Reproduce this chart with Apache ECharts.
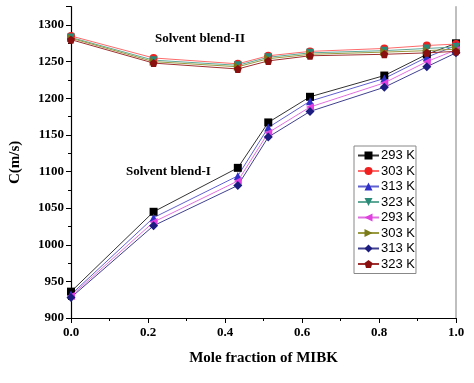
<!DOCTYPE html>
<html><head><meta charset="utf-8">
<script src="https://cdn.jsdelivr.net/npm/echarts@6/dist/echarts.min.js"></script>
<style>html,body{margin:0;padding:0;background:#fff}#c{width:474px;height:383px}</style>
</head><body><div id="c"></div>
<script>
var xValues = [0, 0.2145, 0.4333, 0.5124, 0.6208, 0.8138, 0.9242, 1.0];
var seriesNames = ['293 K','303 K','313 K','323 K','293 K','303 K','313 K','323 K'];
var s1 = [936, 1045, 1105, 1167, 1202, 1231, 1260, 1275]; // black
var s2 = [1285, 1255, 1247, 1258, 1264, 1268, 1272, 1274]; // red
var s3 = [932, 1037, 1094, 1160, 1196, 1227, 1256, 1272]; // blue
var s4 = [1283, 1252, 1245, 1256, 1262, 1265, 1268, 1270]; // teal
var s5 = [930, 1031, 1087, 1153, 1188, 1221, 1250, 1266]; // magenta
var s6 = [1282, 1250, 1243, 1254, 1260, 1263, 1265, 1267]; // olive
var s7 = [928, 1026, 1081, 1147, 1182, 1215, 1243, 1262]; // navy
var s8 = [1280, 1248, 1240, 1251, 1258, 1260, 1262, 1264]; // dark red
var yTicks = [900, 950, 1000, 1050, 1100, 1150, 1200, 1250, 1300];

var allData = [s1,s2,s3,s4,s5,s6,s7,s8];
var markerColors = ['#000000','#f02020','#3030c8','#2a8a78','#e040e0','#7a7a18','#1c1c80','#8a1010'];
var lineColors   = ['#333333','#ff6a6a','#6060d0','#5fa898','#e070e0','#9a9a40','#404090','#a03030'];
var pentagon = 'path://M0,-10 L9.51,-3.09 L5.88,8.09 L-5.88,8.09 L-9.51,-3.09 Z';
var symbols = ['rect','circle','triangle','triangle','triangle','triangle','diamond',pentagon];
var rotates = [0,0,0,180,90,-90,0,0];
var sizes = [8,8,8,8,8,8,9,8];

var series = allData.map(function(d,i){
  return {
    name: seriesNames[i] + '\u200b'.repeat(i),
    type: 'line',
    data: d.map(function(v,j){return [xValues[j], v];}),
    symbol: symbols[i],
    symbolRotate: rotates[i],
    symbolSize: sizes[i],
    showAllSymbol: true,
    lineStyle: {width: 1, color: lineColors[i]},
    itemStyle: {color: markerColors[i]},
    emphasis: {disabled: true},
    animation: false,
    z: 2
  };
});

var chart = echarts.init(document.getElementById('c'));
chart.setOption({
  animation: false,
  grid: {left: 69, right: 18, top: 6.7, bottom: 65, containLabel: false},
  legend: {
    orient: 'vertical',
    left: 354, top: 146,
    padding: [3, 1, 3, 3],
    itemGap: 2.5,
    itemWidth: 21, itemHeight: 10,
    borderColor: '#888', borderWidth: 1,
    textStyle: {fontFamily: 'Liberation Sans', fontSize: 13, lineHeight: 12, color: '#000', padding: [0,0,0,-3]},
    formatter: function(n){ return n.replace(/\u200b/g,''); },
    data: series.map(function(s){return s.name;})
  },
  xAxis: {
    type: 'value', min: 0, max: 1, interval: 0.2,
    name: 'Mole fraction of MIBK', nameLocation: 'middle', nameGap: 33,
    nameTextStyle: {fontFamily: 'Liberation Serif', fontWeight: 'bold', fontSize: 15, color: '#000'},
    axisLine: {lineStyle: {color: '#000', width: 1.2}},
    axisTick: {inside: false, length: 5, lineStyle: {color: '#000'}},
    minorTick: {show: true, splitNumber: 2, length: 3, lineStyle: {color: '#000'}},
    splitLine: {show: false},
    axisLabel: {fontFamily: 'Liberation Serif', fontWeight: 'bold', fontSize: 13, color: '#000', margin: 8,
      formatter: function(v){return v.toFixed(1);}}
  },
  yAxis: [{
    type: 'value', min: 900, max: 1325, interval: 50,
    name: 'C(m/s)', nameLocation: 'middle', nameGap: 48, nameRotate: 90,
    nameTextStyle: {fontFamily: 'Liberation Serif', fontWeight: 'bold', fontSize: 15, color: '#000'},
    axisLine: {show: true, lineStyle: {color: '#000', width: 1.2}},
    axisTick: {inside: false, length: 5, lineStyle: {color: '#000'}},
    minorTick: {show: true, splitNumber: 2, length: 3, lineStyle: {color: '#000'}},
    splitLine: {show: false},
    axisLabel: {fontFamily: 'Liberation Serif', fontWeight: 'bold', fontSize: 13, color: '#000', margin: 7,
      showMaxLabel: false,
      formatter: function(v){ return yTicks.indexOf(v) >= 0 ? String(v) : ''; }}
  },{
    type: 'value', min: 900, max: 1325, position: 'right',
    axisLine: {show: true, lineStyle: {color: '#aaaaaa', width: 1.5}},
    axisTick: {show: false}, axisLabel: {show: false}, splitLine: {show: false}
  }],
  graphic: [
    {type: 'text', left: 155, top: 32, style: {text: 'Solvent blend-II', font: 'bold 13px "Liberation Serif"', fill: '#000'}},
    {type: 'text', left: 126, top: 165, style: {text: 'Solvent blend-I', font: 'bold 13px "Liberation Serif"', fill: '#000'}}
  ],
  series: series
});
</script>
</body></html>
